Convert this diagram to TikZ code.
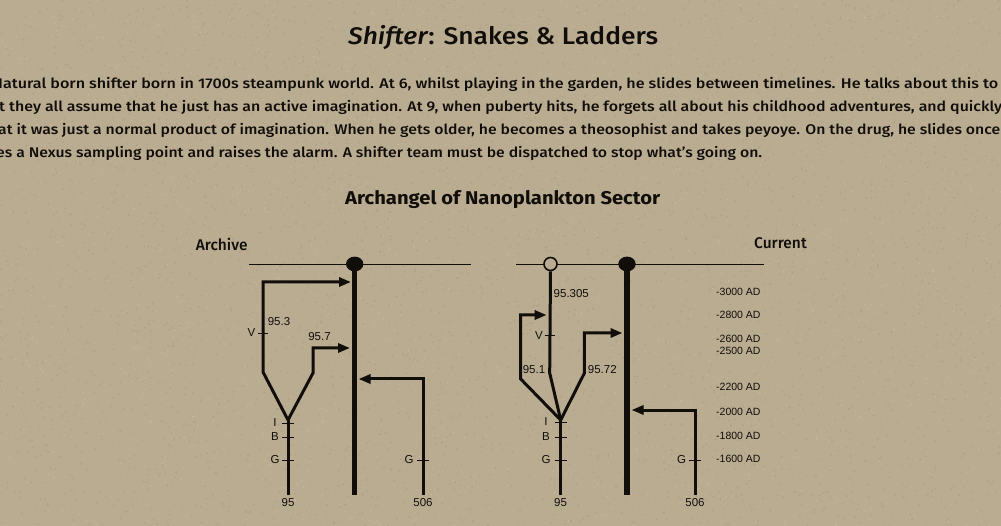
\documentclass[tikz,border=0pt]{standalone}
\usepackage{fontspec}
\setmainfont{Fira Sans}
\newfontfamily\storyfont{Fira Sans Medium}
\newfontfamily\tagfont{Liberation Sans}
\usetikzlibrary{arrows.meta}
\definecolor{paper}{RGB}{186,172,145}
\definecolor{paperdark}{RGB}{174,160,132}
\definecolor{paperlight}{RGB}{197,184,157}
\definecolor{ink}{RGB}{17,14,10}
\tikzset{
  story/.style={anchor=base west, inner sep=0pt, text=ink, font=\storyfont\fontsize{14}{15}\selectfont},
  heading/.style={anchor=base west, inner sep=0pt, text=ink},
  panel/.style={inner sep=0pt, text=ink, font=\storyfont\fontsize{15.5}{16}\selectfont},
  tag/.style={inner sep=0pt, text=ink, font=\tagfont\fontsize{11.5}{12}\selectfont},
  timeline/.style={ink, line width=0.9pt},
  trunk/.style={ink, line width=5.5pt},
  branch/.style={ink, line width=3pt},
  slide/.style={ink, line width=3pt, -{Triangle[length=12pt,width=9pt]}},
  tickline/.style={ink, line width=0.9pt},
}
\begin{document}
\begin{tikzpicture}[x=1pt,y=-1pt]
\fill[paper] (0,0) rectangle (1001,526);
\useasboundingbox (0,0) rectangle (1001,526);
\clip (0,0) rectangle (1001,526);
% paper grain
\pgfmathsetseed{7}
\foreach \i in {1,...,3000} {
  \fill[paperdark] (rnd*1001,rnd*526) circle (0.9pt);
  \fill[paperlight] (rnd*1001,rnd*526) circle (0.8pt);
}
% heading and story
\node[heading, font=\storyfont\fontsize{24}{26}\selectfont] (title) at (348,45)
  {\resizebox{310pt}{\height}{\textit{Shifter}: Snakes \& Ladders}};
\node[story] (story1) at (-8,89) {\resizebox{1006pt}{\height}{Natural born shifter born in 1700s steampunk world. At 6, whilst playing in the garden, he slides between timelines. He talks about this to}};
\node[story] (story2) at (-1,112) {\resizebox{1003pt}{\height}{t they all assume that he just has an active imagination. At 9, when puberty hits, he forgets all about his childhood adventures, and quickly}};
\node[story] (story3) at (-2,135) {\resizebox{1002pt}{\height}{at it was just a normal product of imagination. When he gets older, he becomes a theosophist and takes peyoye. On the drug, he slides once}};
\node[story] (story4) at (-4,158) {\resizebox{766pt}{\height}{es a Nexus sampling point and raises the alarm. A shifter team must be dispatched to stop what’s going on.}};
\node[heading, font=\bfseries\fontsize{18.5}{20}\selectfont] (sector) at (345,205)
  {\resizebox{315pt}{\height}{Archangel of Nanoplankton Sector}};

% LHS
\node[panel] (archive) at (221.7,244) {Archive};
\coordinate (axisLw) at (249,264);
\coordinate (axisLe) at (471,264);
\draw[timeline] (axisLw) -- (axisLe);
\coordinate (nexusL) at (354.7,264);
\coordinate (trunkLend) at (354.7,495);
\draw[trunk] (nexusL) -- (trunkLend);
\fill[ink] (nexusL) ellipse (8.7pt and 7.4pt);
\coordinate (rootL) at (288,495);
\coordinate (forkL) at (288,420);
\coordinate (hitL1) at (351,282);
\coordinate (hitL2) at (350,348);
\draw[branch] (rootL) -- (forkL);
\draw[slide] (forkL) -- ++(-25,-48) |- (hitL1);
\draw[slide] (forkL) -- ++(25,-47) |- (hitL2);
\foreach \y/\t in {423/I,437/B,460/G} {
  \draw[tickline] (288,\y) +(-6,0) -- +(6,0);
  \node[tag] (tagL\t) at (275,\y) {\t};
}
\draw[tickline] (263,333) +(-5,0) -- +(5,0);
\node[tag] (tagLV) at (251.5,333) {V};
\node[tag] (numL95) at (288,503) {95};
\node[tag] (numL953) at (279,322) {95.3};
\node[tag] (numL957) at (319.5,337) {95.7};
\coordinate (rootL506) at (423,495);
\coordinate (hitL3) at (358.5,379);
\draw[slide] (rootL506) |- (hitL3);
\draw[tickline] (423,460) +(-6,0) -- +(6,0);
\node[tag] (tagLG506) at (409,460) {G};
\node[tag] (numL506) at (423,503) {506};

% RHS
\node[panel] (current) at (780.5,243) {Current};
\coordinate (axisRw) at (516,264);
\coordinate (axisRe) at (764,264);
\draw[timeline] (axisRw) -- (axisRe);
\coordinate (nexusR) at (627,264);
\coordinate (trunkRend) at (627,495);
\draw[trunk] (nexusR) -- (trunkRend);
\fill[ink] (nexusR) ellipse (8.7pt and 7.4pt);
\node[draw=ink, fill=paper, circle, line width=1.6pt, minimum size=13pt, inner sep=0pt] (origin) at (550.5,264) {};
\coordinate (rootR) at (560.7,495);
\coordinate (forkR) at (560.7,420);
\coordinate (hitR1) at (546.7,315);
\coordinate (hitR2) at (622.5,333);
\draw[branch] (rootR) -- (forkR);
\draw[branch] (forkR) -- ++(-11,-47) -- (origin.south);
\draw[slide] (forkR) -- ++(-40,-41) |- (hitR1);
\draw[slide] (forkR) -- ++(23.6,-46.7) |- (hitR2);
\foreach \y/\t in {422/I,437/B,460/G} {
  \draw[tickline] (560.7,\y) +(-6,0) -- +(6,0);
  \node[tag] (tagR\t) at (546,\y) {\t};
}
\draw[tickline] (549.7,335.7) +(-5,0) -- +(5,0);
\node[tag] (tagRV) at (539,335.7) {V};
\node[tag] (numR95) at (560.5,503) {95};
\node[tag] (numR95305) at (571.3,294) {95.305};
\node[tag] (numR951) at (534,370) {95.1};
\node[tag] (numR9572) at (602.3,370) {95.72};
\coordinate (rootR506) at (695,495);
\coordinate (hitR3) at (631.5,410);
\draw[slide] (rootR506) |- (hitR3);
\draw[tickline] (695,460) +(-6,0) -- +(6,0);
\node[tag] (tagRG506) at (681.7,460) {G};
\node[tag] (numR506) at (695,503) {506};
% years
\foreach \y/\yr in {291.7/3000,315/2800,339.3/2600,351/2500,387.3/2200,411.7/2000,435.7/1800,459.3/1600}
  \node[tag, font=\tagfont\fontsize{10.5}{11}\selectfont, anchor=west] (yr\yr) at (716,\y) {-\yr\ AD};
\end{tikzpicture}
\end{document}
